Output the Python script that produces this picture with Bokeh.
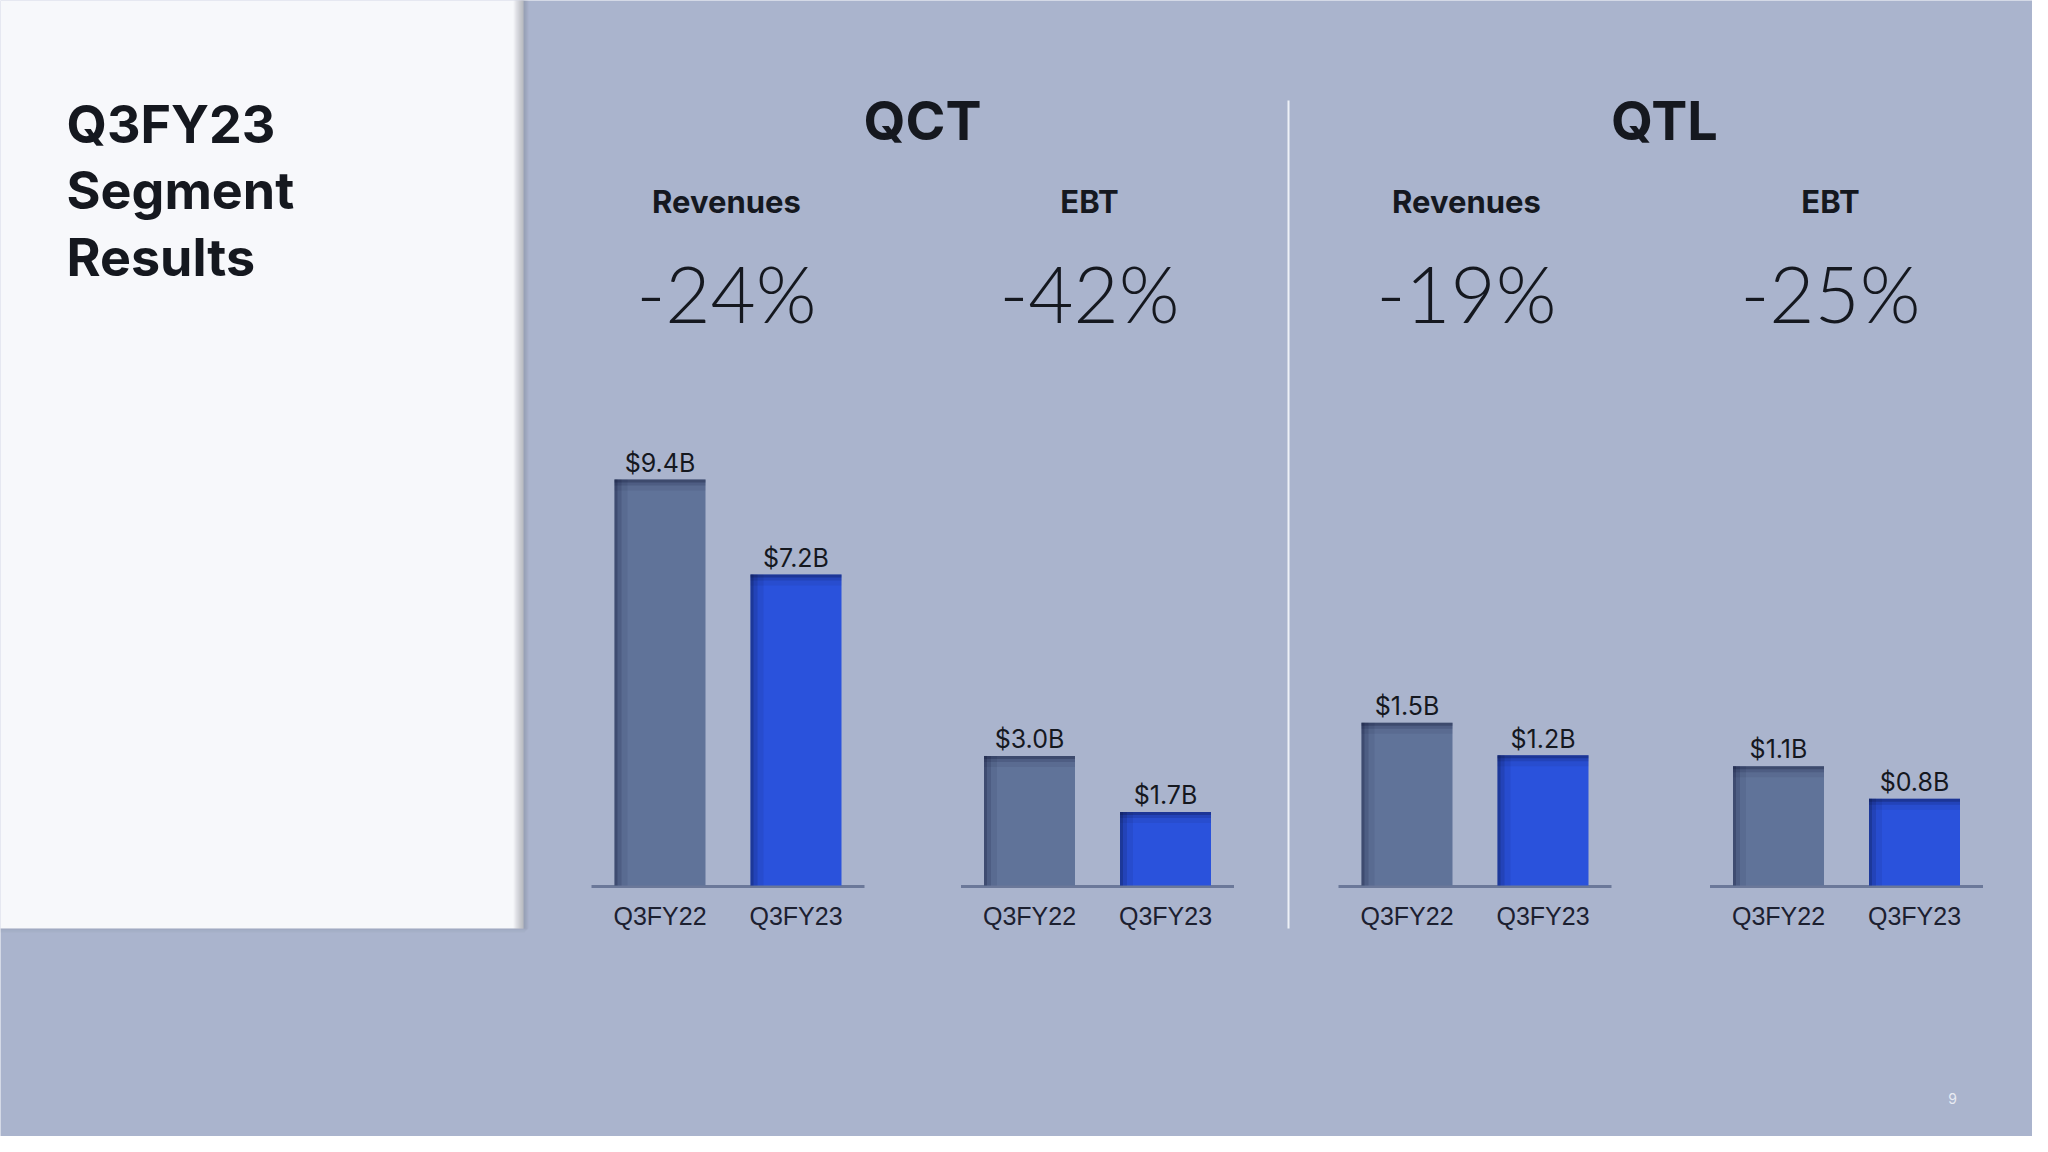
import numpy as np
from bokeh.plotting import figure
from bokeh.models import Range1d
from bokeh.core.properties import value
from bokeh.embed import file_html
from bokeh.resources import INLINE

# ---------------- data ----------------
title_lines = ["Q3FY23", "Segment", "Results"]
segments = ["QCT", "QTL"]
metrics = ["Revenues", "EBT", "Revenues", "EBT"]
changes = ["-24%", "-42%", "-19%", "-25%"]
periods = ["Q3FY22", "Q3FY23"]
qct_revenues = [9.4, 7.2]
qct_ebt = [3.0, 1.7]
qtl_revenues = [1.5, 1.2]
qtl_ebt = [1.1, 0.8]
page_number = "9"

# ---------------- style / layout ----------------
BG = "#aab4cd"
PANEL = "#f7f8fb"
DARK = "#15181f"
GRAY_BAR = "#607399"
BLUE_BAR = "#2a52dc"
AXIS_COL = "#6b7899"
HEAD_FONT = value("Inter")
LIGHT_FONT = value("Lato Light")
LABEL_FONT = value("Liberation Sans")
# measured drop of the rendered alphabetic baseline, as a fraction of font size
K_INTER, K_LATO, K_LIB = 0.27, 0.33, 0.38

W, H = 2032, 1136
BASE = 893          # baseline of all bar groups (page px)
S_QCT = 43.2        # px per $B in QCT charts
S_QTL = 108.5       # px per $B in QTL charts
BAR_W = 91
PITCH = 136
first_bar_x = [667.5, 1037, 1414.5, 1786]
metric_x = [734, 1097, 1474, 1838]
segment_x = [930, 1672]

p = figure(width=W, height=H, x_range=Range1d(8, 8 + W), y_range=Range1d(8 + H, 8),
           output_backend="svg", toolbar_location=None, min_border=0,
           x_axis_location=None, y_axis_location=None,
           background_fill_color=BG, border_fill_color=BG, outline_line_color=None)
p.grid.visible = False
p.extra_y_ranges = {
    "qct": Range1d((BASE - (8 + H)) / S_QCT, (BASE - 8) / S_QCT),
    "qtl": Range1d((BASE - (8 + H)) / S_QTL, (BASE - 8) / S_QTL),
}

# ---------------- left panel ----------------
p.quad(left=[0], right=[531], top=[0], bottom=[936], fill_color=PANEL, line_color=None)
for i in range(10):
    p.quad(left=[521 + i], right=[522 + i], top=[0], bottom=[936],
           fill_color="#5a5e6a", fill_alpha=0.045 * (i + 1), line_color=None)
for i in range(5):
    p.quad(left=[531 + i], right=[532 + i], top=[0], bottom=[936],
           fill_color="#5a5e6a", fill_alpha=0.25 - 0.05 * i, line_color=None)
for i in range(4):
    p.quad(left=[0], right=[531 + 4 - i], top=[936 + i], bottom=[937 + i],
           fill_color="#5a5e6a", fill_alpha=0.12 - 0.03 * i, line_color=None)

ts = 52
p.text(x=[74] * 3, y=[146, 212, 279], text=title_lines, text_font=HEAD_FONT,
       text_font_style="bold", text_font_size=f"{ts}px", text_color=DARK,
       text_align="left", text_baseline="alphabetic", y_offset=-K_INTER * ts)

# ---------------- headers ----------------
p.segment(x0=[1296], y0=[108], x1=[1296], y1=[936], line_color="#eef1f7", line_width=2)
hs = 54
p.text(x=segment_x, y=[143, 143], text=segments, text_font=HEAD_FONT, text_font_style="bold",
       text_font_size=f"{hs}px", text_color=DARK, text_align="center",
       text_baseline="alphabetic", y_offset=-K_INTER * hs)
ms = 31
p.text(x=metric_x, y=[217] * 4, text=metrics, text_font=HEAD_FONT, text_font_style="bold",
       text_font_size=f"{ms}px", text_color=DARK, text_align="center",
       text_baseline="alphabetic", y_offset=-K_INTER * ms)
ps = 78
p.text(x=metric_x, y=[326] * 4, text=changes, text_font=LIGHT_FONT,
       text_font_size=f"{ps}px", text_color=DARK, text_align="center",
       text_baseline="alphabetic", y_offset=-K_LATO * ps)

# ---------------- bars ----------------
groups = [(qct_revenues, "qct", S_QCT), (qct_ebt, "qct", S_QCT),
          (qtl_revenues, "qtl", S_QTL), (qtl_ebt, "qtl", S_QTL)]
colors = [GRAY_BAR, BLUE_BAR]
vs = 25
ls = 25
for (vals, rn, s), fx in zip(groups, first_bar_x):
    vals = np.array(vals, dtype=float)
    xs = np.array([fx, fx + PITCH])
    lefts = xs - BAR_W / 2
    rights = xs + BAR_W / 2
    # axis line
    p.segment(x0=[lefts[0] - 23], x1=[rights[1] + 23], y0=[BASE + 1], y1=[BASE + 1],
              line_color=AXIS_COL, line_width=3)
    p.vbar(x=xs, top=vals, bottom=0, width=BAR_W, fill_color=colors, line_color=None,
           y_range_name=rn)
    # inner shadow: left edge and top edge
    for w, a in [(3, 0.22), (7, 0.14), (13, 0.08)]:
        p.quad(left=lefts, right=lefts + w, bottom=0, top=vals, fill_color="#0a1030",
               fill_alpha=a, line_color=None, y_range_name=rn)
    for h, a in [(3, 0.25), (6, 0.14), (11, 0.07)]:
        p.quad(left=lefts, right=rights, top=vals, bottom=vals - h / s, fill_color="#0a1030",
               fill_alpha=a, line_color=None, y_range_name=rn)
    labels = ["$%.1fB" % v for v in vals]
    p.text(x=xs, y=vals, text=labels, y_offset=-(10 + K_INTER * vs), y_range_name=rn,
           text_font=HEAD_FONT, text_font_size=f"{vs}px", text_color=DARK,
           text_align="center", text_baseline="alphabetic")
    p.text(x=xs, y=[933, 933], text=periods, text_font=LABEL_FONT, text_font_size=f"{ls}px",
           text_color="#1c2030", text_align="center", text_baseline="alphabetic",
           y_offset=-K_LIB * ls)

p.text(x=[1960], y=[1110], text=[page_number], text_font=HEAD_FONT, text_font_size="14px",
       text_color="#e8ebf3", text_align="center", text_baseline="alphabetic",
       y_offset=-K_INTER * 14)

open("out.html", "w").write(file_html(p, INLINE))
